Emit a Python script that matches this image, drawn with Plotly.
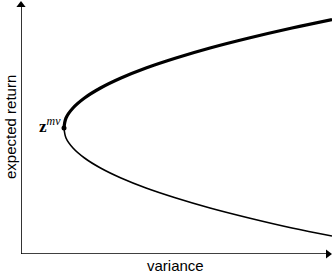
import plotly.graph_objects as go

# Efficient frontier (x: variance, y: expected return)
upper_var = [43, 45, 52, 63.5, 79.5, 100, 125, 155, 189, 228, 271, 311]
upper_ret = [126, 136, 146, 156, 166, 176, 186, 196, 206, 216, 226, 234.5]
lower_var = [43, 45, 52, 63.5, 79.5, 100, 125, 155, 189, 228, 271, 311]
lower_ret = [126, 116, 106, 96, 86, 76, 66, 56, 46, 36, 26, 18]
mv_point = (43, 126)
x_label = "variance"
y_label = "expected return"
point_label = "<b>z</b><sup><i>mv</i></sup>"
x_max, y_max = 310, 252

fig = go.Figure()
# axes
fig.add_trace(go.Scatter(x=[0, x_max - 3], y=[0, 0], mode="lines",
                         line=dict(color="black", width=1.6), cliponaxis=False,
                         hoverinfo="skip"))
fig.add_trace(go.Scatter(x=[0, 0], y=[0, y_max - 3], mode="lines",
                         line=dict(color="black", width=1.6), cliponaxis=False,
                         hoverinfo="skip"))
fig.add_trace(go.Scatter(x=[x_max - 3], y=[0], mode="markers", cliponaxis=False,
                         marker=dict(symbol="triangle-right", size=8, color="black"),
                         hoverinfo="skip"))
fig.add_trace(go.Scatter(x=[0], y=[y_max - 3], mode="markers", cliponaxis=False,
                         marker=dict(symbol="triangle-up", size=8, color="black"),
                         hoverinfo="skip"))
# frontier
fig.add_trace(go.Scatter(x=lower_var, y=lower_ret, mode="lines",
                         line=dict(color="black", width=1.6, shape="spline"),
                         hoverinfo="skip"))
fig.add_trace(go.Scatter(x=upper_var, y=upper_ret, mode="lines",
                         line=dict(color="black", width=3.2, shape="spline"),
                         hoverinfo="skip"))
fig.add_trace(go.Scatter(x=[mv_point[0]], y=[mv_point[1]], mode="markers",
                         marker=dict(color="black", size=5), hoverinfo="skip"))

annotations = [
    dict(x=154.5, y=0, xref="x", yref="paper", yshift=-11, showarrow=False,
         text=x_label, font=dict(family="Liberation Sans, Arial", size=15, color="black"),
         xanchor="center", yanchor="middle"),
    dict(x=0, y=127, xref="paper", yref="y", xshift=-11, showarrow=False,
         text=y_label, textangle=-90,
         font=dict(family="Liberation Sans, Arial", size=15, color="black"),
         xanchor="center", yanchor="middle"),
    dict(x=41.5, y=129, xref="x", yref="y", showarrow=False, text=point_label,
         font=dict(family="Liberation Serif, DejaVu Serif, serif", size=17, color="black"),
         xanchor="right", yanchor="middle"),
]

fig.update_layout(
    width=332, height=274,
    margin=dict(l=21, r=0, t=0, b=20),
    paper_bgcolor="white", plot_bgcolor="white",
    showlegend=False,
    xaxis=dict(range=[0, 311], visible=False, fixedrange=True),
    yaxis=dict(range=[0, 254], visible=False, fixedrange=True),
    annotations=annotations,
)

fig.write_html("out.html", config={"displayModeBar": False})
